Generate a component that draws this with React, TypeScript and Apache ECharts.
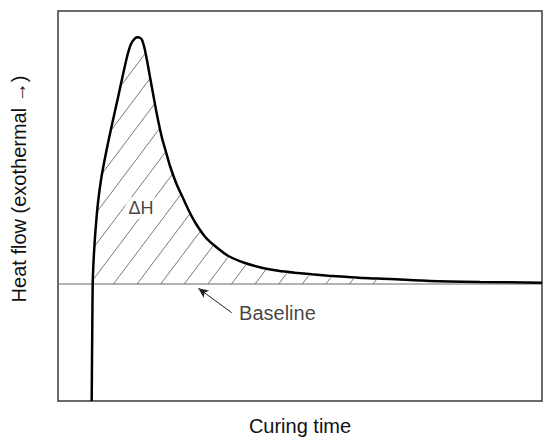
import React, { useEffect, useRef } from "react";
import * as echarts from "echarts";

// Heat-flow curve (x: curing time, y: heat flow, baseline at 0)
const curveX = [6.963, 7.025, 7.087, 7.169, 7.335, 7.603, 7.955, 8.326, 8.884, 9.504, 10.331, 11.364, 12.397, 13.43, 14.36, 15.083, 15.909, 16.591, 17.314, 17.913, 18.45, 19.008, 19.69, 20.455, 21.488, 22.314, 23.14, 24.483, 25.723, 27.066, 28.409, 30.372, 32.438, 35.186, 38.636, 42.087, 45.517, 48.967, 52.417, 55.847, 59.298, 63.079, 68.595, 76.86, 87.19, 100];
const curveY = [-30, -19.49, -10.77, 0, 5.64, 11.28, 16.92, 21.54, 26.67, 31.03, 36.15, 42.05, 47.82, 53.72, 58.72, 61.54, 63.0, 63.26, 62.69, 60.26, 56.92, 53.08, 48.46, 43.33, 37.44, 33.85, 30.26, 25.64, 22.31, 18.72, 15.64, 12.13, 9.74, 7.18, 5.38, 4.18, 3.41, 2.9, 2.49, 2.13, 1.87, 1.54, 1.28, 0.77, 0.51, 0.33];
const baselineX = [0, 100];
const baselineY = [0, 0];
const hatchEndX = 66.5;

const xRange = [0, 100];
const yRange = [-30, 70];

const deltaHPos = [17.15, 19.5];
const baselineLabelPos = [37.4, -7.4];
const arrowFrom = [35.9, -7.36];
const arrowTo = [29.0, -1.1];

const FONT = "Liberation Sans, Arial, sans-serif";

export default function App() {
  const ref = useRef<HTMLDivElement>(null);
  useEffect(() => {
    if (!ref.current) return;
    const chart = echarts.init(ref.current, null, { renderer: "svg" });
    const startIdx = curveY.findIndex((v) => v >= 0);

    const option: any = {
      animation: false,
      backgroundColor: "#ffffff",
      grid: {
        left: 58,
        top: 11,
        right: 8,
        bottom: 41,
        show: true,
        borderColor: "#3a3a3a",
        borderWidth: 1.5,
        backgroundColor: "transparent",
      },
      xAxis: {
        type: "value",
        min: xRange[0],
        max: xRange[1],
        axisLine: { show: false },
        axisTick: { show: false },
        axisLabel: { show: false },
        splitLine: { show: false },
        name: "Curing time",
        nameLocation: "middle",
        nameGap: 15,
        nameTextStyle: { fontSize: 20, fontFamily: FONT, color: "#111" },
      },
      yAxis: {
        type: "value",
        min: yRange[0],
        max: yRange[1],
        axisLine: { show: false },
        axisTick: { show: false },
        axisLabel: { show: false },
        splitLine: { show: false },
        name: "Heat flow (exothermal \u2192)",
        nameLocation: "middle",
        nameGap: 29,
        nameRotate: 90,
        nameTextStyle: { fontSize: 20, fontFamily: FONT, color: "#111", padding: [0, 0, 0, 34] },
      },
      series: [
        {
          type: "custom",
          name: "hatch",
          silent: true,
          z: 1,
          data: [[0, 0]],
          renderItem: (_params: any, api: any) => {
            const pts: number[][] = [];
            for (let i = startIdx; i < curveX.length; i++) pts.push(api.coord([curveX[i], curveY[i]]));
            const base = api.coord([0, 0])[1];
            const endPx = api.coord([hatchEndX, 0])[0];
            const x0 = pts[0][0];
            const xN = pts[pts.length - 1][0];
            const curveAt = (px: number) => {
              for (let i = 0; i < pts.length - 1; i++) {
                const a = pts[i], b = pts[i + 1];
                if (px >= a[0] && px <= b[0]) {
                  const t = b[0] === a[0] ? 0 : (px - a[0]) / (b[0] - a[0]);
                  return a[1] + t * (b[1] - a[1]);
                }
              }
              return base;
            };
            const inside = (px: number, py: number) => {
              if (px < x0 || px > xN) return false;
              return py <= base && py > curveAt(px) + 1.5;
            };
            const spacing = 23.6;
            const slope = 1.33;
            const phase = 20.8;
            const children: any[] = [];
            for (let bx = x0 + phase - spacing * 14; bx <= endPx; bx += spacing) {
              let first: number[] | null = null;
              let last: number[] | null = null;
              for (let h = 0; h <= 420; h += 0.5) {
                const px = bx + h / slope;
                const py = base - h;
                if (inside(px, py)) {
                  if (!first) first = [px, py];
                  last = [px, py];
                } else if (first) break;
              }
              if (first && last && first[1] - last[1] > 2) {
                children.push({
                  type: "line",
                  shape: { x1: first[0], y1: first[1], x2: last[0], y2: last[1] },
                  style: { stroke: "#7a7a7a", lineWidth: 1 },
                });
              }
            }
            return { type: "group", children };
          },
        },
        {
          type: "line",
          name: "Baseline",
          data: baselineX.map((x, i) => [x, baselineY[i]]),
          showSymbol: false,
          silent: true,
          z: 2,
          lineStyle: { color: "#666", width: 1 },
          markLine: {
            silent: true,
            symbol: ["none", "arrow"],
            symbolSize: [7, 10],
            label: { show: false },
            lineStyle: { color: "#222", width: 1, type: "solid" },
            data: [[{ coord: arrowFrom }, { coord: arrowTo }]],
          },
        },
        {
          type: "line",
          name: "Heat flow",
          data: curveX.map((x, i) => [x, curveY[i]]),
          showSymbol: false,
          smooth: 0.25,
          silent: true,
          z: 3,
          lineStyle: { color: "#000", width: 2.5 },
        },
        {
          type: "scatter",
          name: "labels",
          silent: true,
          z: 4,
          symbolSize: 0.1,
          itemStyle: { color: "transparent" },
          data: [
            {
              value: deltaHPos,
              label: {
                show: true,
                position: "inside",
                formatter: "\u0394H",
                fontSize: 18,
                fontFamily: FONT,
                color: "#111",
                backgroundColor: "#fff",
                padding: [2, 3],
              },
            },
            {
              value: baselineLabelPos,
              label: {
                show: true,
                position: "right",
                distance: 0,
                formatter: "Baseline",
                fontSize: 20,
                fontFamily: FONT,
                color: "#111",
              },
            },
          ],
        },
      ],
    };
    chart.setOption(option);
    return () => chart.dispose();
  }, []);
  return (
    <div
      ref={ref}
      style={{ position: "fixed", left: 0, top: 0, width: 550, height: 442, background: "#fff" }}
    />
  );
}
